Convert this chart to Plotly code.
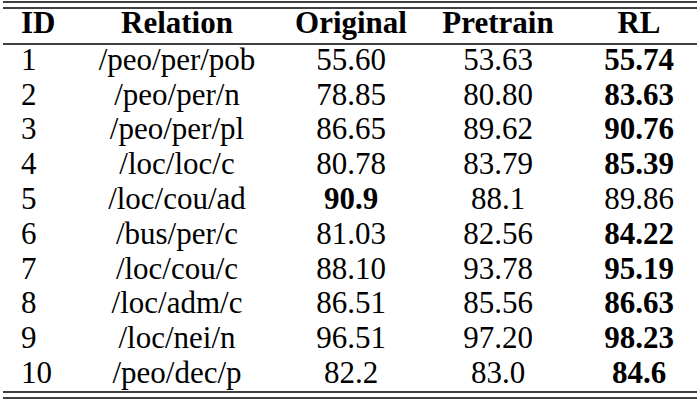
import plotly.graph_objects as go

# table data
ids = ["1", "2", "3", "4", "5", "6", "7", "8", "9", "10"]
relations = ["/peo/per/pob", "/peo/per/n", "/peo/per/pl", "/loc/loc/c", "/loc/cou/ad",
             "/bus/per/c", "/loc/cou/c", "/loc/adm/c", "/loc/nei/n", "/peo/dec/p"]
original = ["55.60", "78.85", "86.65", "80.78", "90.9", "81.03", "88.10", "86.51", "96.51", "82.2"]
pretrain = ["53.63", "80.80", "89.62", "83.79", "88.1", "82.56", "93.78", "85.56", "97.20", "83.0"]
rl = ["55.74", "83.63", "90.76", "85.39", "89.86", "84.22", "95.19", "86.63", "98.23", "84.6"]
headers = ["ID", "Relation", "Original", "Pretrain", "RL"]

W, H = 700, 402
FONT = "Times New Roman, Liberation Serif, DejaVu Serif, serif"
SIZE = 31

# layout: column anchors (px) and row positions
col_x = [21, 177, 351, 498, 639]
col_anchor = ["middle right", "middle center", "middle center", "middle center", "middle center"]
header_y = 25
row_y0, row_y_step = 62, 34.8
row_y = [row_y0 + row_y_step * i for i in range(len(ids))]

# bold the best score in each row
scores = [original, pretrain, rl]
best = []
for i in range(len(ids)):
    vals = [float(s[i]) for s in scores]
    best.append(vals.index(max(vals)))

columns = [ids, relations, original, pretrain, rl]

fig = go.Figure()

# rules: top double, header rule, bottom double
rules = [2, 8, 44, 392, 398]
for ry in rules:
    fig.add_trace(go.Scatter(
        x=[3, 697], y=[ry, ry], mode="lines", showlegend=False, hoverinfo="skip",
        line=dict(color="black", width=1.6),
    ))

# header
for c, h in enumerate(headers):
    fig.add_trace(go.Scatter(
        x=[col_x[c]], y=[header_y], mode="text", text=[f"<b>{h}</b>"],
        textposition=col_anchor[c], showlegend=False, hoverinfo="skip",
        textfont=dict(family=FONT, size=SIZE, color="black"),
    ))

# body cells
for c, col in enumerate(columns):
    texts = []
    for i, v in enumerate(col):
        if c >= 2 and best[i] == c - 2:
            texts.append(f"<b>{v}</b>")
        else:
            texts.append(v)
    fig.add_trace(go.Scatter(
        x=[col_x[c]] * len(col), y=row_y, mode="text", text=texts,
        textposition=col_anchor[c], showlegend=False, hoverinfo="skip",
        textfont=dict(family=FONT, size=SIZE, color="black"),
    ))

fig.update_layout(
    width=W, height=H,
    margin=dict(l=0, r=0, t=0, b=0),
    font=dict(family=FONT, color="black"),
    paper_bgcolor="white", plot_bgcolor="white",
    xaxis=dict(range=[0, W], visible=False, fixedrange=True),
    yaxis=dict(range=[H, 0], visible=False, fixedrange=True),
)

# page body has a default 8px margin; drop it so the table sits at the corner
fig.write_html("out.html", config={"displayModeBar": False},
               post_script="document.body.style.margin='0';")
